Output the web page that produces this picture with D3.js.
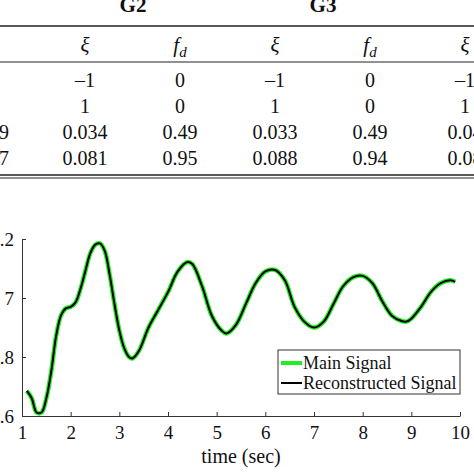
<!DOCTYPE html>
<html lang="en">
<script src="https://d3js.org/d3.v7.min.js"></script>
<style>
    body { margin:0; background:white; }
    svg text { font-family: 'Liberation Serif', 'Times New Roman', 'DejaVu Serif', serif !important; fill:#111; }
</style>
<body>
<svg width="474" height="474"></svg>
<script>
// table part (cropped from the figure)
const groups = ['G2', 'G3'];
const colHeads = ['ξ', 'fd', 'ξ', 'fd', 'ξ'];
const leftCol = ['', '', '9', '7'];
const rows = [
    ['–1', '0', '–1', '0', '–1'],
    ['1', '0', '1', '0', '1'],
    ['0.034', '0.49', '0.033', '0.49', '0.04'],
    ['0.081', '0.95', '0.088', '0.94', '0.08']
];

// signal, time in sec
const time = [1.1,1.2,1.3,1.4,1.5,1.6,1.7,1.8,1.9,2.0,2.1,2.2,2.3,2.4,2.5,2.6,2.7,2.8,2.9,3.0,3.1,3.2,3.27,3.4,3.6,3.8,4.0,4.2,4.4,4.5,4.7,4.9,5.1,5.2,5.4,5.6,5.8,6.0,6.2,6.4,6.6,6.8,7.0,7.2,7.4,7.6,7.8,8.0,8.2,8.4,8.6,8.8,8.9,9.0,9.2,9.4,9.6,9.8,9.9];
const signal = [6.685,6.66,6.612,6.612,6.66,6.75,6.87,6.94,6.965,6.97,6.985,7.03,7.09,7.15,7.18,7.185,7.16,7.08,6.98,6.89,6.83,6.80,6.795,6.82,6.90,6.96,7.02,7.09,7.122,7.115,7.04,6.94,6.89,6.88,6.91,6.98,7.05,7.09,7.095,7.06,6.97,6.92,6.90,6.92,6.98,7.04,7.07,7.075,7.05,6.99,6.94,6.922,6.92,6.93,6.97,7.02,7.05,7.06,7.055];
const xTicks = [1,2,3,4,5,6,7,8,9,10];
const yTicks = [6.6, 6.8, 7, 7.2];

const svg = d3.select('svg');

// ---- table ----
const colX = [85, 180, 275, 370, 465];
svg.selectAll('.grp').data(groups).enter().append('text')
    .attr('x', (d, i) => 133 + i * 190).attr('y', 12)
    .attr('text-anchor', 'middle').style('font-size', '21px').style('font-weight', 'bold')
    .text(d => d);
[26, 62, 175, 178].forEach((y, i) => {
    svg.append('line').attr('x1', 0).attr('x2', 474).attr('y1', y).attr('y2', y)
        .attr('stroke', '#222').attr('stroke-width', i == 0 || i == 2 ? 1.4 : 1);
});
colHeads.forEach((h, i) => {
    const t = svg.append('text').attr('x', colX[i]).attr('y', 52)
        .attr('text-anchor', 'middle').style('font-size', '21px').style('font-style', 'italic');
    if (h == 'fd') {
        t.text('f');
        t.append('tspan').attr('dy', 5).style('font-size', '15px').text('d');
    } else t.text(h);
});
rows.forEach((r, ri) => {
    const y = 87 + ri * 26;
    r.forEach((v, ci) => {
        svg.append('text').attr('x', colX[ci]).attr('y', y)
            .attr('text-anchor', 'middle').style('font-size', '20px').text(v);
    });
    svg.append('text').attr('x', 9).attr('y', y).attr('text-anchor', 'end')
        .style('font-size', '20px').text(leftCol[ri]);
});

// ---- chart ----
const x = d3.scaleLinear().domain([1, 10]).range([22, 460]);
const y = d3.scaleLinear().domain([6.6, 7.2]).range([416, 239]);

const bottom = svg.append('g').attr('transform', 'translate(0,416)')
    .call(d3.axisBottom(x).tickValues(xTicks).tickFormat(d3.format('d')).tickSizeInner(-4).tickSizeOuter(0).tickPadding(10));
const left = svg.append('g').attr('transform', 'translate(22,0)')
    .call(d3.axisLeft(y).tickValues(yTicks).tickFormat(d => d == 7 ? '7' : d3.format('.1f')(d)).tickSizeInner(-4).tickSizeOuter(0).tickPadding(8));
[bottom, left].forEach(g => {
    g.attr('font-family', null).attr('font-size', null);
    g.selectAll('path, line').attr('stroke', '#333');
    g.selectAll('text').style('font-size', '19px').attr('fill', '#111');
});

svg.append('text').attr('x', 241).attr('y', 463).attr('text-anchor', 'middle')
    .style('font-size', '20px').text('time (sec)');

const pts = time.map((t, i) => [t, signal[i]]);
const line = d3.line().x(d => x(d[0])).y(d => y(d[1])).curve(d3.curveCatmullRom);
svg.append('path').datum(pts).attr('d', line).attr('fill', 'none')
    .attr('stroke', '#22ee22').attr('stroke-width', 4.5);
svg.append('path').datum(pts).attr('d', line).attr('fill', 'none')
    .attr('stroke', '#000').attr('stroke-width', 2);

// legend
const lg = svg.append('g').attr('transform', 'translate(278,350)');
lg.append('rect').attr('width', 182).attr('height', 44).attr('fill', 'white').attr('stroke', '#333');
[['Main Signal', '#22ee22', 4], ['Reconstructed Signal', '#000', 2]].forEach((d, i) => {
    lg.append('line').attr('x1', 3).attr('x2', 24).attr('y1', 13 + i * 20).attr('y2', 13 + i * 20)
        .attr('stroke', d[1]).attr('stroke-width', d[2]);
    lg.append('text').attr('x', 25).attr('y', 19 + i * 20).style('font-size', '18px').text(d[0]);
});
</script>
</body>
</html>
